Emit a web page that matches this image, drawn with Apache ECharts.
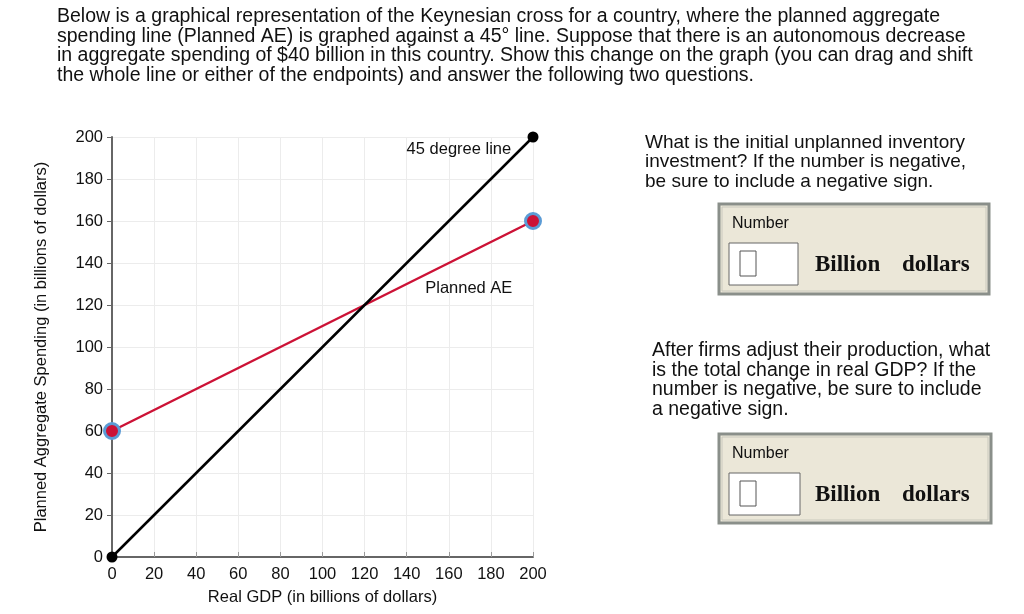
<!DOCTYPE html>
<html>
<head>
<meta charset="utf-8">
<script src="https://cdn.jsdelivr.net/npm/echarts@6/dist/echarts.min.js"></script>
<style>
  html, body { margin: 0; padding: 0; background: #fff; }
  #chart { width: 1024px; height: 614px; }
</style>
</head>
<body>
<div id="chart"></div>
<script>
// data
const gdp = [0, 200];
const line45 = [0, 200];
const plannedAE = [60, 160];
const xTicks = [0, 20, 40, 60, 80, 100, 120, 140, 160, 180, 200];

const titleLines = [
  'Below is a graphical representation of the Keynesian cross for a country, where the planned aggregate',
  'spending line (Planned AE) is graphed against a 45\u00b0 line. Suppose that there is an autonomous decrease',
  'in aggregate spending of $40 billion in this country. Show this change on the graph (you can drag and shift',
  'the whole line or either of the endpoints) and answer the following two questions.'
];
const q1 = ['What is the initial unplanned inventory', 'investment? If the number is negative,', 'be sure to include a negative sign.'];
const q2 = ['After firms adjust their production, what', 'is the total change in real GDP? If the', 'number is negative, be sure to include', 'a negative sign.'];

const font = 'Liberation Sans, Arial, sans-serif';
const serif = 'bold 23px Liberation Serif, Times New Roman, serif';

function answerBox(x, y, w, h, inputW) {
  return [
    { type: 'rect', shape: { x: x, y: y, width: w, height: h },
      style: { fill: '#ebe7d8', stroke: '#8a8f8a', lineWidth: 3 } },
    { type: 'rect', shape: { x: x + 3, y: y + 3, width: w - 6, height: h - 6 },
      style: { fill: 'none', stroke: '#c9c8bd', lineWidth: 1 } },
    { type: 'text', style: { x: x + 13, y: y + 20, text: 'Number', font: '16px ' + font, fill: '#111', verticalAlign: 'middle' } },
    { type: 'rect', shape: { x: x + 10, y: y + 39, width: inputW, height: 42 },
      style: { fill: '#fff', stroke: '#666', lineWidth: 1 } },
    { type: 'rect', shape: { x: x + 21, y: y + 47, width: 16, height: 25 },
      style: { fill: '#fff', stroke: '#555', lineWidth: 1 } },
    { type: 'text', style: { x: x + 96, y: y + 61, text: 'Billion', font: serif, fill: '#111', verticalAlign: 'middle' } },
    { type: 'text', style: { x: x + 183, y: y + 61, text: 'dollars', font: serif, fill: '#111', verticalAlign: 'middle' } }
  ];
}

function noteLabel(x, y, text) {
  return {
    symbol: 'circle', symbolSize: 1, itemStyle: { color: 'rgba(0,0,0,0)' },
    data: [{ coord: [x, y] }],
    label: { show: true, position: 'inside', formatter: text, fontSize: 16.5, color: '#111' }
  };
}

const chart = echarts.init(document.getElementById('chart'));
chart.setOption({
  backgroundColor: '#fff',
  animation: false,
  textStyle: { fontFamily: font },
  grid: { left: 112, right: 491, top: 137, bottom: 57 },
  xAxis: {
    type: 'value', min: 0, max: 200, interval: 20,
    name: 'Real GDP (in billions of dollars)', nameLocation: 'middle', nameGap: 32,
    nameTextStyle: { fontSize: 16.5, color: '#111' },
    axisLine: { lineStyle: { color: '#666', width: 2 } },
    axisTick: { inside: true, length: 5, lineStyle: { color: '#999' } },
    axisLabel: { fontSize: 16.5, color: '#111', margin: 9,
      formatter: v => xTicks.indexOf(v) >= 0 ? String(v) : '' },
    splitLine: { lineStyle: { color: '#ececec' } }
  },
  yAxis: {
    type: 'value', min: 0, max: 200, interval: 20,
    name: 'Planned Aggregate Spending (in billions of dollars)', nameLocation: 'middle', nameGap: 62,
    nameTextStyle: { fontSize: 16.5, color: '#111' },
    axisLine: { show: true, lineStyle: { color: '#666', width: 2 } },
    axisTick: { show: true, length: 5, lineStyle: { color: '#666' } },
    axisLabel: { fontSize: 16.5, color: '#111', margin: 9 },
    splitLine: { lineStyle: { color: '#ececec' } }
  },
  series: [
    {
      type: 'line', name: '45 degree line',
      data: gdp.map((g, i) => [g, line45[i]]),
      clip: false, z: 3,
      lineStyle: { color: '#000', width: 2.5 },
      symbol: 'circle', symbolSize: 11,
      itemStyle: { color: '#000' },
      markPoint: noteLabel(164.8, 194.3, '45 degree line')
    },
    {
      type: 'line', name: 'Planned AE',
      data: gdp.map((g, i) => [g, plannedAE[i]]),
      clip: false, z: 2,
      lineStyle: { color: '#cc1236', width: 2.5 },
      symbol: 'circle', symbolSize: 15,
      itemStyle: { color: '#cc1236', borderColor: '#5b9bd5', borderWidth: 3 },
      markPoint: noteLabel(169.5, 128.1, 'Planned AE')
    }
  ],
  graphic: [
    { type: 'text', left: 57, top: 7,
      style: { text: titleLines.join('\n'), font: '19.5px ' + font, lineHeight: 19.5, fill: '#111' } },
    { type: 'text', left: 645, top: 133,
      style: { text: q1.join('\n'), font: '19px ' + font, lineHeight: 19.5, fill: '#111' } },
    { type: 'text', left: 652, top: 341,
      style: { text: q2.join('\n'), font: '19.5px ' + font, lineHeight: 19.5, fill: '#111' } },
    { type: 'group', children: answerBox(719, 204, 270, 90, 69) },
    { type: 'group', children: answerBox(719, 434, 272, 89, 71) }
  ]
});
</script>
</body>
</html>
